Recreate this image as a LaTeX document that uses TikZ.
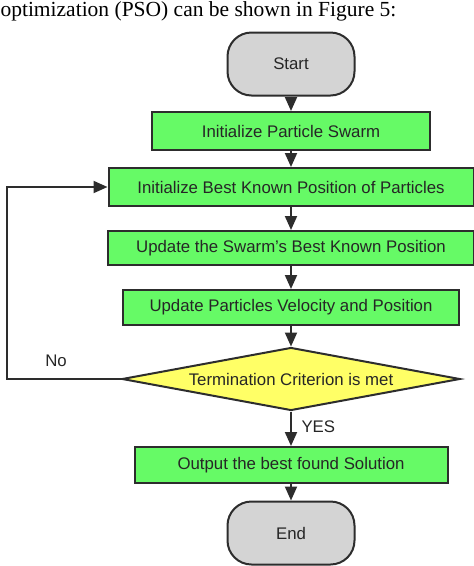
\documentclass[tikz,border=0pt]{standalone}
\usepackage{fontspec}
\setmainfont{Liberation Serif}
\setsansfont{Liberation Sans}
\usetikzlibrary{shapes.geometric,arrows.meta}

\definecolor{boxgreen}{RGB}{102,250,102}
\definecolor{crityellow}{RGB}{255,255,102}
\definecolor{termgray}{RGB}{212,212,212}
\definecolor{linegray}{RGB}{45,45,45}
\newcommand{\flowfont}{\sffamily\fontsize{16.8}{19}\selectfont}

\tikzset{
  process/.style={draw=linegray, line width=2pt, fill=boxgreen, font=\flowfont, text=black!85, inner sep=0pt},
  terminal/.style={draw=linegray, line width=2pt, fill=termgray, rounded corners=24pt, font=\flowfont, text=black!85, minimum width=127pt, minimum height=63pt},
  decision/.style={diamond, aspect=5.37, draw=linegray, line width=2pt, fill=crityellow, font=\flowfont, text=black!85, inner sep=0pt, minimum width=338pt, minimum height=63pt},
  flow/.style={draw=linegray, line width=2pt, -{Triangle[width=12pt,length=14pt]}},
}

\begin{document}
\begin{tikzpicture}[x=1pt,y=-1pt]
\useasboundingbox (0,0) rectangle (474,566);
\node[anchor=base west, font=\fontsize{21.5}{24}\selectfont] (caption) at (-3,16) {optimization (PSO) can be shown in Figure 5:};
% flow chart
\node[terminal] (start) at (291,64) {Start};
\node[process, minimum width=278pt, minimum height=38pt] (swarm) at (291,131) {Initialize Particle Swarm};
\node[process, minimum width=365pt, minimum height=38pt] (bestpos) at (291,187) {Initialize Best Known Position of Particles};
\node[process, minimum width=366pt, minimum height=34pt] (swarmbest) at (291,248) {Update the Swarm's Best Known Position};
\node[process, minimum width=336pt, minimum height=35pt] (update) at (291,307.5) {Update Particles Velocity and Position};
\node[decision] (crit) at (291,379) {Termination Criterion is met};
\node[process, minimum width=313pt, minimum height=36pt] (output) at (291,465) {Output the best found Solution};
\node[terminal] (stop) at (291,533) {End};
% connectors
\draw[flow] (start) -- (swarm);
\draw[flow] (swarm) -- (bestpos);
\draw[flow] (bestpos) -- (swarmbest);
\draw[flow] (swarmbest) -- (update);
\draw[flow] (update) -- (crit);
\draw[flow] (crit) -- (output);
\draw[flow] (output) -- (stop);
\draw[flow] (crit.west) -- ++(-114,0) |- (bestpos.west);
\node[font=\flowfont, text=black!85] (nolabel) at (56,361) {No};
\node[font=\flowfont, text=black!85, anchor=west] (yeslabel) at (298,427) {YES};
\end{tikzpicture}
\end{document}
